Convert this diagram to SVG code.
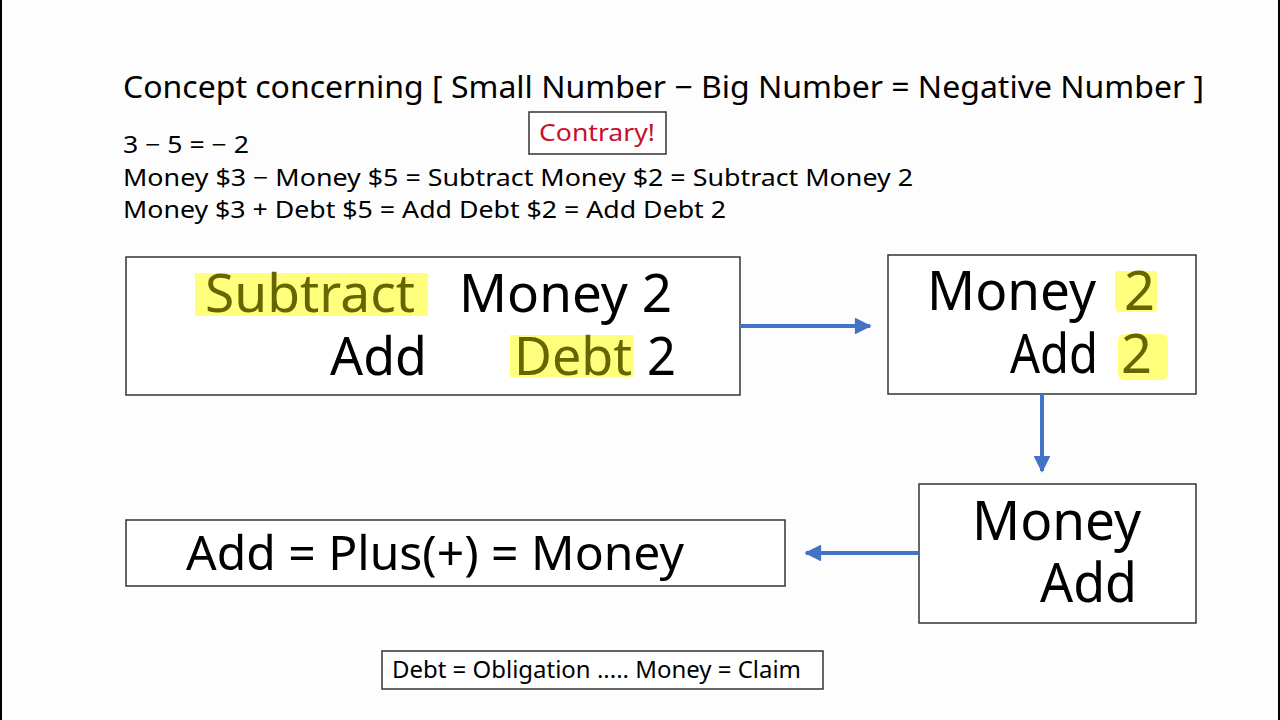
<svg xmlns="http://www.w3.org/2000/svg" width="1280" height="720" viewBox="0 0 1280 720">
<defs>
<style>
.t{font-family:"Noto Sans","Open Sans","DejaVu Sans",sans-serif;fill:#000}
.box{fill:#fff;stroke:#333;stroke-width:1.5}
.hl{fill:#ffff66;opacity:0.85}
.hlt{fill:#666600}
.conn{stroke:#4472c4;stroke-width:4;fill:none}
</style>
<marker id="ah" viewBox="0 0 10 10" refX="9" refY="5" markerWidth="4.6" markerHeight="4.2" orient="auto" markerUnits="strokeWidth">
<path d="M0,0 L10,5 L0,10 Z" fill="#4472c4"/>
</marker>
</defs>
<rect x="0" y="0" width="1280" height="720" fill="#fdfdfd"/>
<rect x="0" y="0" width="2" height="720" fill="#000"/>
<rect x="1278" y="0" width="2" height="720" fill="#000"/>

<g id="header">
<text class="t" x="123" y="98" font-size="31" textLength="1081" lengthAdjust="spacingAndGlyphs">Concept concerning [ Small Number − Big Number = Negative Number ]</text>
<text class="t" x="123" y="153" font-size="24" textLength="126" lengthAdjust="spacingAndGlyphs">3 − 5 = − 2</text>
<text class="t" x="123" y="186" font-size="24" textLength="790" lengthAdjust="spacingAndGlyphs">Money $3 − Money $5 = Subtract Money $2 = Subtract Money 2</text>
<text class="t" x="123" y="218" font-size="24" textLength="603" lengthAdjust="spacingAndGlyphs">Money $3 + Debt $5 = Add Debt $2 = Add Debt 2</text>
</g>

<g id="contrary">
<rect class="box" x="529" y="112" width="137" height="42"/>
<text class="t" x="539" y="141" font-size="24" style="fill:#c8102e" textLength="116" lengthAdjust="spacingAndGlyphs">Contrary!</text>
</g>

<g id="node1">
<rect class="box" x="126" y="257" width="614" height="138"/>
<rect class="hl" x="195" y="273" width="233" height="43"/>
<rect class="hl" x="510" y="335" width="124" height="42"/>
<text class="t hlt" x="205" y="312" font-size="52" textLength="210" lengthAdjust="spacingAndGlyphs">Subtract</text>
<text class="t" x="459" y="312" font-size="52" textLength="213" lengthAdjust="spacingAndGlyphs">Money 2</text>
<text class="t" x="330" y="375" font-size="52" textLength="97" lengthAdjust="spacingAndGlyphs">Add</text>
<text class="t hlt" x="514" y="375" font-size="52" textLength="118" lengthAdjust="spacingAndGlyphs">Debt</text>
<text class="t" x="647" y="375" font-size="52" textLength="29" lengthAdjust="spacingAndGlyphs">2</text>
</g>

<g id="node2">
<rect class="box" x="888" y="255" width="308" height="139"/>
<rect class="hl" x="1115" y="271" width="42" height="41" rx="4"/>
<rect class="hl" x="1118" y="334" width="50" height="46" rx="6"/>
<text class="t" x="927" y="310" font-size="55" textLength="169" lengthAdjust="spacingAndGlyphs">Money</text>
<text class="t hlt" x="1124" y="310" font-size="55" textLength="31" lengthAdjust="spacingAndGlyphs">2</text>
<text class="t" x="1010" y="373" font-size="55" textLength="88" lengthAdjust="spacingAndGlyphs">Add</text>
<text class="t hlt" x="1121" y="373" font-size="55" textLength="31" lengthAdjust="spacingAndGlyphs">2</text>
</g>

<g id="node3">
<rect class="box" x="919" y="484" width="277" height="139"/>
<text class="t" x="972" y="540" font-size="55" textLength="169" lengthAdjust="spacingAndGlyphs">Money</text>
<text class="t" x="1040" y="602" font-size="55" textLength="97" lengthAdjust="spacingAndGlyphs">Add</text>
</g>

<g id="node4">
<rect class="box" x="126" y="520" width="659" height="66"/>
<text class="t" x="186" y="570" font-size="48" textLength="498" lengthAdjust="spacingAndGlyphs">Add = Plus(+) = Money</text>
</g>

<g id="note">
<rect class="box" x="382" y="651" width="441" height="38"/>
<text class="t" x="392" y="678" font-size="24" textLength="409" lengthAdjust="spacingAndGlyphs">Debt = Obligation ..... Money = Claim</text>
</g>

<g id="connectors">
<line class="conn" x1="740" y1="326" x2="870" y2="326" marker-end="url(#ah)"/>
<line class="conn" x1="1042" y1="394" x2="1042" y2="471" marker-end="url(#ah)"/>
<line class="conn" x1="919" y1="553" x2="806" y2="553" marker-end="url(#ah)"/>
</g>
</svg>
